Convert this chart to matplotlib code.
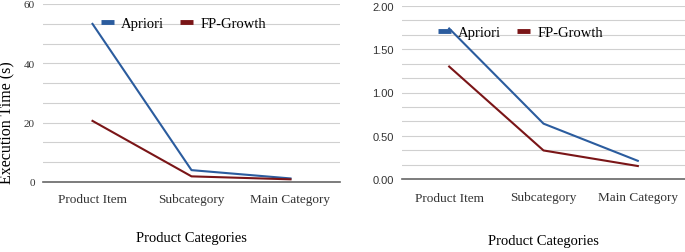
import matplotlib.pyplot as plt
from matplotlib.ticker import MultipleLocator

categories = ['Product Item', 'Subcategory', 'Main Category']

# left chart: execution time (s)
apriori_left = [53.3, 4.0, 1.2]
fpgrowth_left = [20.6, 1.9, 0.9]

# right chart
apriori_right = [1.74, 0.64, 0.21]
fpgrowth_right = [1.30, 0.33, 0.15]

blue = '#2b5c9e'
red = '#7a1517'
serif = 'Liberation Serif'

fig = plt.figure(figsize=(6.85, 2.53), dpi=100)
W, H = 685, 253


def make_axes(x0, x1, ytop, ybot):
    return fig.add_axes([x0 / W, (H - ybot) / H, (x1 - x0) / W, (ybot - ytop) / H])


def style(ax, ymax, major, minor, fmt, ylab_font, pad, lpad):
    x = [0.5, 1.5, 2.5]
    ax.set_xlim(0, 3)
    ax.set_ylim(0, ymax)
    ax.set_xticks(x)
    ax.set_xticklabels(categories, fontfamily=serif, fontsize=9.5, color='#333333')
    ax.yaxis.set_major_locator(MultipleLocator(major))
    ax.yaxis.set_minor_locator(MultipleLocator(minor))
    ax.yaxis.set_major_formatter(fmt)
    for lab in ax.get_yticklabels():
        lab.set_fontfamily(ylab_font)
        lab.set_fontsize(8)
        lab.set_color('#333333')
    ax.tick_params(axis='x', length=0, pad=pad)
    ax.tick_params(axis='y', length=0, pad=6)
    ax.tick_params(axis='y', which='minor', length=0)
    ax.grid(axis='y', which='both', color='#d0d0d0', linewidth=0.8)
    ax.set_axisbelow(True)
    for s in ['top', 'right', 'left']:
        ax.spines[s].set_visible(False)
    ax.spines['bottom'].set_color('#666666')
    ax.spines['bottom'].set_linewidth(1.2)
    ax.set_xlabel('Product Categories', fontfamily=serif, fontsize=10.5, labelpad=lpad)
    return x


def add_legend(ax, anchor):
    leg = ax.legend(loc='upper left', bbox_to_anchor=anchor, ncol=2, frameon=False,
                    handlelength=0.9, handletextpad=0.5, columnspacing=1.1,
                    prop={'family': serif, 'size': 10.5})
    for h in leg.get_lines():
        h.set_linewidth(3.5)
        h.set_solid_capstyle('butt')


# left panel
ax1 = make_axes(43, 340, 5, 183)
x = style(ax1, 60, 20, 20 / 3, '{x:.0f}', serif, 8, 19)
ax1.plot(x, apriori_left, color=blue, lw=1.5, label='Apriori')
ax1.plot(x, fpgrowth_left, color=red, lw=1.5, label='FP-Growth')
ax1.set_ylabel('Execution Time (s)', fontfamily=serif, fontsize=11.5)
ax1.yaxis.set_label_coords(-0.094, 0.34)
add_legend(ax1, (0.15, 1.0))

# right panel
ax2 = make_axes(402, 685, 7, 180)
x = style(ax2, 2, 0.5, 0.5 / 3, '{x:.2f}', 'Liberation Sans', 9, 22)
ax2.plot(x, apriori_right, color=blue, lw=1.5, label='Apriori')
ax2.plot(x, fpgrowth_right, color=red, lw=1.5, label='FP-Growth')
add_legend(ax2, (0.08, 0.96))

fig.savefig('out.png', dpi=100)
